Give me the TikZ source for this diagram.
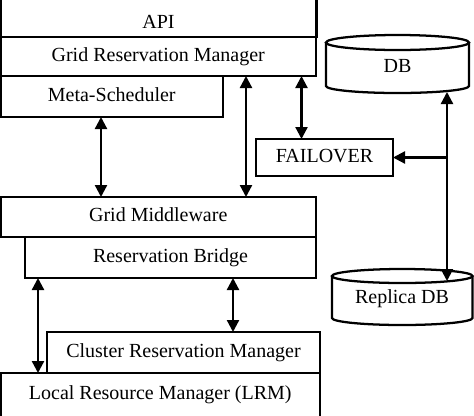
\documentclass[tikz,border=0pt]{standalone}
\usepackage{fontspec}
\setmainfont{Liberation Serif}
\usetikzlibrary{arrows.meta}
\begin{document}
\begin{tikzpicture}[x=0.75pt,y=-0.75pt,
  lw/.style={line width=1.7pt},
  blk/.style={draw,lw,rectangle,anchor=north west,inner sep=0pt,outer sep=0pt,
    font=\fontsize{15}{17}\selectfont,text height=10.4pt,text depth=3pt},
  tip/.tip={Triangle[length=9pt,width=9pt]},
  dar/.style={lw,tip-tip},
  sar/.style={lw,-tip},
  lbl/.style={font=\fontsize{15}{17}\selectfont,inner sep=0pt}]
\clip (0,0) rectangle (474,415);
% boxes
\node[blk,minimum width=316*0.75pt,minimum height=39*0.75pt,text height=19pt] (api) at (0.5,-2) {API};
\node[blk,minimum width=315.5*0.75pt,minimum height=39*0.75pt] (grm) at (0.5,37) {Grid Reservation Manager};
\node[blk,minimum width=222.5*0.75pt,minimum height=41*0.75pt] (meta) at (0.5,76) {Meta-Scheduler};
\node[blk,minimum width=315.5*0.75pt,minimum height=40*0.75pt] (gm) at (0.5,197) {Grid Middleware};
\node[blk,minimum width=291*0.75pt,minimum height=41*0.75pt] (rb) at (25,237) {Reservation Bridge};
\node[blk,minimum width=273*0.75pt,minimum height=41*0.75pt] (crm) at (47,332) {Cluster Reservation Manager};
\node[blk,minimum width=319.5*0.75pt,minimum height=44*0.75pt] (lrm) at (0.5,373) {Local Resource Manager (LRM)};
\node[blk,minimum width=137*0.75pt,minimum height=37*0.75pt] (fail) at (256,139) {FAILOVER};
% DB cylinder
\draw[lw] (397.5,42.5) ellipse[x radius=71.5,y radius=7.5];
\draw[lw] (326,42.5) -- (326,86) arc[start angle=180,end angle=0,x radius=71.5,y radius=7] -- (469,42.5);
\node[lbl] (db) at (397.5,66) {DB};
% Replica DB cylinder
\draw[lw] (402.25,276) ellipse[x radius=70.25,y radius=7];
\draw[lw] (332,276) -- (332,318) arc[start angle=180,end angle=0,x radius=70.25,y radius=7] -- (472.5,276);
\node[lbl] (rdb) at (402,299) {Replica DB};
% helper coordinates
\coordinate (xa) at (101,0);
\coordinate (xb) at (246,0);
\coordinate (xc) at (301.5,0);
\coordinate (xe) at (38,0);
\coordinate (xf) at (233,0);
\coordinate (dbb) at (447,92);
\coordinate (rdt) at (447,281);
% connectors
\draw[dar] (xa |- meta.south) -- (xa |- gm.north);
\draw[dar] (xb |- grm.south) -- (xb |- gm.north);
\draw[dar] (xc |- grm.south) -- (xc |- fail.north);
\draw[dar] (dbb) -- (rdt);
\draw[sar] (dbb |- fail.east) -- (fail.east);
\draw[dar] (xe |- rb.south) -- (xe |- lrm.north);
\draw[dar] (xf |- rb.south) -- (xf |- crm.north);
\end{tikzpicture}
\end{document}
